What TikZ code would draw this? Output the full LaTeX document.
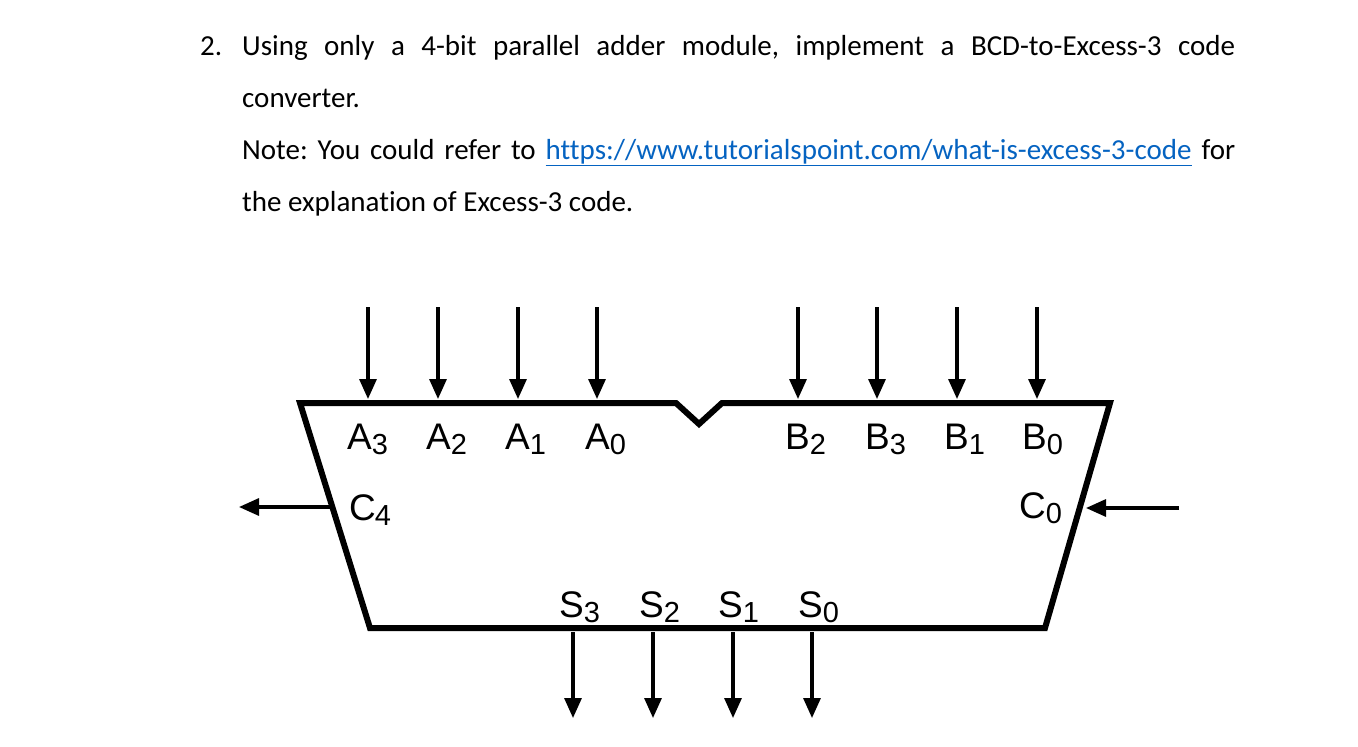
\documentclass[tikz,border=0pt]{standalone}
\usepackage{fontspec}
\setmainfont{Carlito}[Ligatures=NoCommon]
\newfontfamily\arial{Liberation Sans}
\usetikzlibrary{arrows.meta}
\definecolor{linkblue}{RGB}{5,99,193}
\tikzset{
  txt/.style={anchor=base west,inner sep=0pt,font=\fontsize{29}{32}\selectfont},
  lbl/.style={inner sep=0pt,font=\arial\fontsize{37}{40}\selectfont},
  sig/.style={line width=3.2pt,-{Triangle[length=20pt,width=17pt]}},
  box/.style={line width=6pt,line join=miter}
}
\newcommand{\sg}[2]{#1\raisebox{-0.28ex}{\fontsize{29}{31}\selectfont #2}}
\begin{document}
\begin{tikzpicture}[x=1pt,y=-1pt]
\useasboundingbox (0,0) rectangle (1358,747);
\node[txt] (n2) at (200,55) {2.};
\node[txt] (l1) at (242,55) {\makebox[993pt][s]{Using\hfill only\hfill a\hfill 4-bit\hfill parallel\hfill adder\hfill module,\hfill implement\hfill a\hfill BCD-to-Excess-3\hfill code}};
\node[txt] (l2) at (242,107) {converter.};
\node[txt] (l3) at (242,159) {\makebox[993pt][s]{Note:\hfill You\hfill could\hfill refer\hfill to\hfill \textcolor{linkblue}{\underline{https://www.tutorialspoint.com/what-is-excess-3-code}}\hfill for}};
\node[txt] (l4) at (242,211) {the explanation of Excess-3 code.};
% box
\draw[box] (300,403) -- (676,403) -- (699,424) -- (722,403) -- (1110,403) -- (1045,628) -- (370,628) -- cycle;
% inputs
\foreach \x/\n in {368/a3,438/a2,518/a1,597/a0,798/b2,877/b3,957/b1,1037/b0}{
  \coordinate (s\n) at (\x,307);
  \coordinate (e\n) at (\x,399);
  \draw[sig] (s\n) -- (e\n);
}
\foreach \x/\n in {573/s3,653/s2,733/s1,812/s0}{
  \coordinate (s\n) at (\x,632);
  \coordinate (e\n) at (\x,718);
  \draw[sig] (s\n) -- (e\n);
}
\coordinate (c4s) at (330,507); \coordinate (c4e) at (239,507);
\draw[sig] (c4s) -- (c4e);
\coordinate (c0s) at (1179,508); \coordinate (c0e) at (1086,508);
\draw[sig] (c0s) -- (c0e);
% labels
\foreach \x/\a/\b in {347/A/3,426/A/2,505/A/1,585/A/0,785/B/2,865/B/3,944/B/1,1022/B/0}{
  \node[lbl,anchor=base west] at (\x,449) {\sg{\a}{\b}};
}
\foreach \x/\b in {559/3,639/2,718/1,798/0}{
  \node[lbl,anchor=base west] at (\x,617) {\sg{S}{\b}};
}
\node[lbl,anchor=base west] (c4) at (349,520) {C\kern-1pt\raisebox{-0.28ex}{\fontsize{29}{31}\selectfont 4}};
\node[lbl,anchor=base west] (c0) at (1019,518) {\sg{C}{0}};
\end{tikzpicture}
\end{document}
